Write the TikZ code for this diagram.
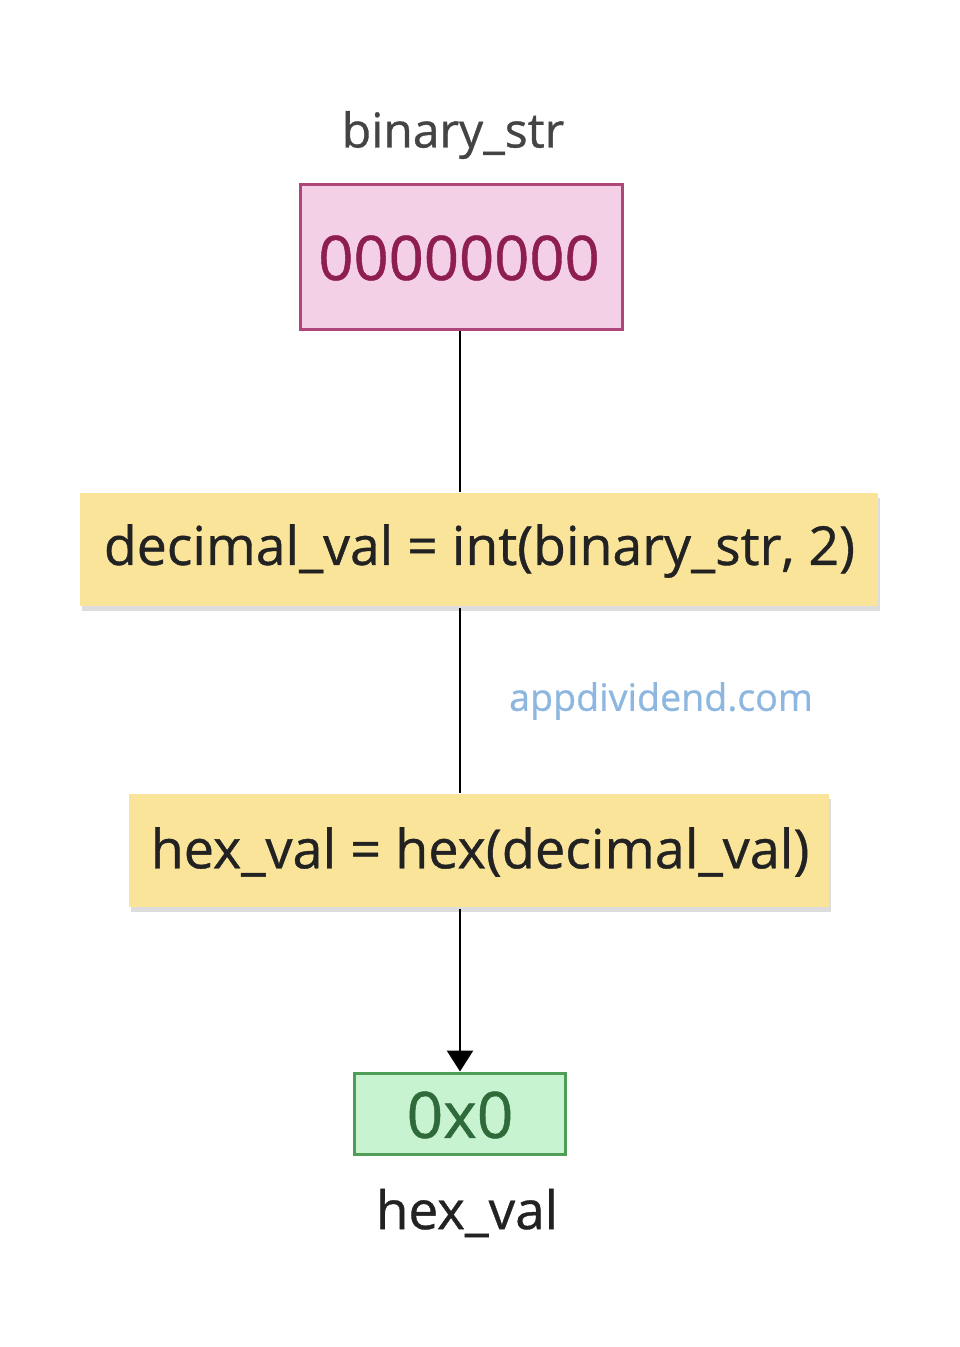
\documentclass[tikz,border=0pt]{standalone}
\usepackage{fontspec}
\setmainfont{Open Sans}[FakeBold=0.7]
\usetikzlibrary{shadows,arrows.meta}
\definecolor{pinkfill}{HTML}{F4D0E6}
\definecolor{pinkdraw}{HTML}{B0457A}
\definecolor{pinktext}{HTML}{8E1E50}
\definecolor{yellowfill}{HTML}{F9E49A}
\definecolor{greenfill}{HTML}{C8F3D0}
\definecolor{greendraw}{HTML}{4E9E58}
\definecolor{greentext}{HTML}{2F6B3A}
\definecolor{labelgray}{HTML}{444444}
\definecolor{textdark}{HTML}{222222}
\definecolor{wmblue}{HTML}{8DB7E0}
\tikzset{
  box/.style={rectangle, inner sep=0pt, line width=3pt},
  valbox/.style={box},
  codebox/.style={box, fill=yellowfill, draw=none,
    drop shadow={shadow xshift=2pt, shadow yshift=-5pt, opacity=0.22, fill=black!60}},
  conn/.style={line width=2.8pt, draw=black},
  lbl/.style={inner sep=0pt, anchor=center}
}
\begin{document}
\begin{tikzpicture}[x=1pt,y=-1pt]
\useasboundingbox[fill=white] (0,0) rectangle (960,1347);
% boxes
\node[valbox, fill=pinkfill, draw=pinkdraw, minimum width=322pt, minimum height=145pt] (bin) at (461,256.5) {};
\node[lbl, text=pinktext, font=\fontsize{61.5}{72}\selectfont] (bintext) at (459,258) {00000000};
\node[lbl, text=labelgray, font=\fontsize{48}{56}\selectfont] (binlbl) at (453,135) {binary\_str};

\node[codebox, minimum width=798pt, minimum height=113pt] (dec) at (479,549.5) {};
\node[lbl, text=textdark, font=\fontsize{53.6}{62}\selectfont] (dectext) at (479.5,551) {decimal\_val = int(binary\_str, 2)};

\node[codebox, minimum width=700pt, minimum height=113pt] (hex) at (479,850.5) {};
\node[lbl, text=textdark, font=\fontsize{54}{62}\selectfont] (hextext) at (480,852) {hex\_val = hex(decimal\_val)};

\node[valbox, fill=greenfill, draw=greendraw, minimum width=211pt, minimum height=81pt] (res) at (459.5,1113.5) {};
\node[lbl, text=greentext, font=\fontsize{64}{74}\selectfont] (restext) at (460,1115) {0x0};
\node[lbl, text=textdark, font=\fontsize{53}{62}\selectfont] (reslbl) at (467,1213) {hex\_val};

\node[lbl, text=wmblue, font=\fontsize{37.6}{44}\selectfont] (wm) at (661,701) {appdividend.com};

% connectors
\coordinate (x0) at (460,0);
\draw[conn] (bin.south -| x0) -- (dec.north -| x0);
\draw[conn] (dec.south -| x0) -- (hex.north -| x0);
\draw[conn, -{Triangle[width=26pt,length=21pt]}] (hex.south -| x0) -- (res.north -| x0);
\end{tikzpicture}
\end{document}
